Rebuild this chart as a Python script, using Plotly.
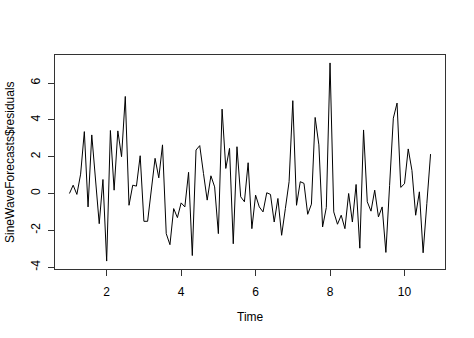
import plotly.graph_objects as go

# Time series: start 1, frequency 10
ts_start = 1.0
ts_frequency = 10
residuals = [
    0.0, 0.45, -0.05, 1.05, 3.36, -0.73, 3.18, 0.7, -1.64, 0.76,
    -3.67, 3.42, 0.18, 3.4, 2.0, 5.27, -0.64, 0.45, 0.4, 2.05,
    -1.51, -1.51, 0.18, 1.91, 0.85, 2.64, -2.18, -2.78, -0.82, -1.31,
    -0.51, -0.73, 1.15, -3.37, 2.36, 2.6, 1.09, -0.36, 0.96, 0.36,
    -2.18, 4.58, 1.36, 2.45, -2.73, 2.54, -0.18, -0.45, 1.67, -1.91,
    -0.09, -0.73, -1.0, 0.04, -0.05, -1.55, -0.27, -2.27, -0.82, 0.64,
    5.04, -0.64, 0.64, 0.55, -1.13, -0.58, 4.13, 2.64, -1.82, -0.76,
    7.09, -1.0, -1.67, -1.18, -1.91, 0.0, -1.55, 0.49, -2.97, 3.45,
    -0.45, -0.96, 0.18, -1.27, -0.73, -3.2, 0.44, 4.09, 4.91, 0.33,
    0.53, 2.42, 1.25, -1.18, 0.09, -3.22, -0.55, 2.14,
]
time = [ts_start + i / ts_frequency for i in range(len(residuals))]

x_ticks = [2, 4, 6, 8, 10]
y_ticks = [-4, -2, 0, 2, 4, 6]

def padded(vals, f=0.04):
    lo, hi = min(vals), max(vals)
    d = (hi - lo) * f
    return [lo - d, hi + d]

font = dict(family="Liberation Sans, Arial, sans-serif", size=12, color="black")

fig = go.Figure(go.Scatter(x=time, y=residuals, mode="lines",
                           line=dict(color="black", width=1)))

fig.update_layout(
    width=474, height=338,
    margin=dict(l=55, r=29, t=55, b=69),
    paper_bgcolor="white", plot_bgcolor="white",
    showlegend=False, font=font,
)
axis_common = dict(showgrid=False, zeroline=False, showline=True, mirror=True,
                   linecolor="#333", linewidth=1, ticks="outside", ticklen=6,
                   tickcolor="#333", tickwidth=1, tickfont=font)
fig.update_xaxes(range=padded(time), tickvals=x_ticks,
                 ticktext=[str(v) for v in x_ticks], ticklabelstandoff=6, **axis_common)
fig.update_yaxes(range=padded(residuals), tickvals=y_ticks,
                 ticktext=[str(v) for v in y_ticks], tickangle=-90,
                 ticklabelstandoff=3, **axis_common)

fig.add_annotation(text="Time", xref="paper", yref="paper", x=0.5, y=0,
                   yshift=-48, showarrow=False, xanchor="center", yanchor="middle", font=font)
fig.add_annotation(text="SineWaveForecasts$residuals", xref="paper", yref="paper",
                   x=0, y=0.5, xshift=-45, textangle=-90, showarrow=False,
                   xanchor="center", yanchor="middle", font=font)

fig.write_html("out.html")
